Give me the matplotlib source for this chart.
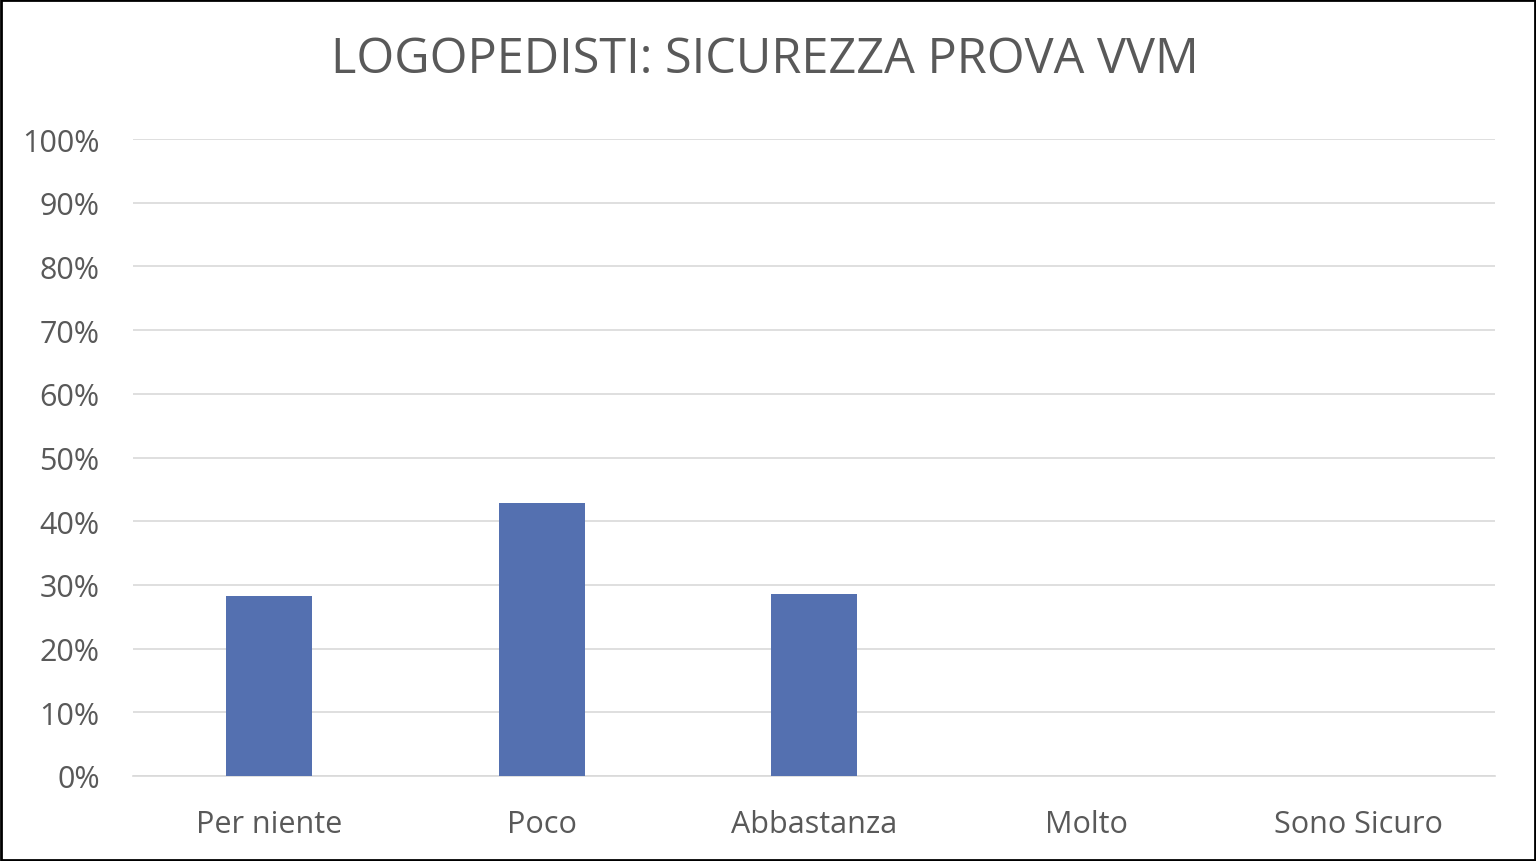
import matplotlib.pyplot as plt
from matplotlib.ticker import FuncFormatter

categories = ["Per niente", "Poco", "Abbastanza", "Molto", "Sono Sicuro"]
values = [0.283, 0.429, 0.286, 0.0, 0.0]

plt.rcParams['font.family'] = ['Open Sans', 'DejaVu Sans']

fig = plt.figure(figsize=(15.36, 8.62), dpi=100, facecolor="white")
ax = fig.add_axes([133 / 1536, 1 - 777 / 862, (1495 - 133) / 1536, (777 - 140) / 862])

ax.bar(range(len(categories)), values, width=0.316, color="#5470b0", zorder=3)
ax.set_xlim(-0.5, len(categories) - 0.5)
ax.set_ylim(0, 1)
ax.set_yticks([i / 10 for i in range(11)])
ax.yaxis.set_major_formatter(FuncFormatter(lambda y, _: f"{y * 100:.0f}%"))
ax.set_xticks(range(len(categories)))
ax.set_xticklabels(categories)
ax.tick_params(length=0, labelsize=22, colors="#595959")
ax.tick_params(axis="x", pad=24)
ax.tick_params(axis="y", pad=24)
ax.grid(axis="y", color="#d9d9d9", linewidth=1.2, zorder=0)
for name, sp in ax.spines.items():
    sp.set_visible(name == "bottom")
ax.spines["bottom"].set_color("#d9d9d9")
ax.spines["bottom"].set_linewidth(1.2)

fig.text(765 / 1536, 1 - 60 / 862, "LOGOPEDISTI: SICUREZZA PROVA VVM",
         ha="center", va="center", fontsize=35, color="#595959")

# black frame around the picture
fig.patches.append(plt.Rectangle((0.0007, 0.001), 0.9986, 0.998, transform=fig.transFigure,
                                 fill=False, edgecolor="black", linewidth=2))

fig.savefig("out.png", dpi=100, facecolor="white")
